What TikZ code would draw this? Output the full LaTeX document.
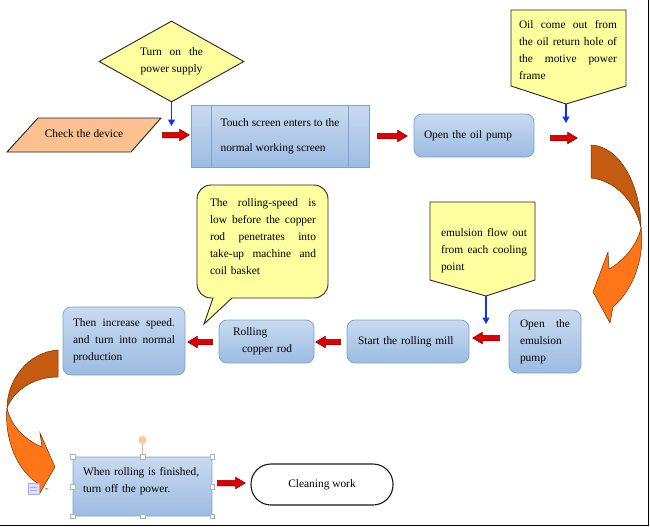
\documentclass[tikz,border=0pt]{standalone}
\usepackage{fontspec}
\setmainfont{Liberation Serif}
\usetikzlibrary{shapes.geometric,shapes.arrows,arrows.meta}
\definecolor{yel}{HTML}{FFFF9F}
\definecolor{peach}{HTML}{FAC090}
\definecolor{btop}{HTML}{C8DAF0}
\definecolor{bbot}{HTML}{9CBCE2}
\definecolor{bline}{HTML}{7FA2CE}
\definecolor{rfill}{HTML}{E00000}
\definecolor{rline}{HTML}{7A0000}
\definecolor{odark}{HTML}{C55A11}
\definecolor{olight}{HTML}{FF7518}
\definecolor{oline}{HTML}{6B3000}
\definecolor{barrow}{HTML}{1030FF}
\newcommand\fs{\fontsize{11.4}{17}\selectfont}
\newcommand\jl[2]{\leavevmode\hbox to #1{\spaceskip=.25em plus 1fil\relax #2}}
\tikzset{
  txt/.style={font=\fs, inner sep=0pt, align=left},
  bluebox/.style={draw=bline, line width=0.8pt, top color=btop, bottom color=bbot, rounded corners=8pt, inner sep=0pt, font=\fs, align=left},
  yelshape/.style={draw=black!85, line width=0.9pt, fill=yel},
  redarr/.style={single arrow, draw=rline, fill=rfill, line width=0.5pt, minimum height=27pt, minimum width=11pt, single arrow head extend=3pt, single arrow tip angle=62, inner xsep=0pt, inner ysep=2.5pt},
  bluearr/.style={draw=barrow, line width=1.1pt, -{Triangle[length=6.5pt,width=7pt]}},
  odarkst/.style={fill=odark, draw=oline, line width=0.5pt},
  olightst/.style={fill=olight, draw=oline, line width=0.5pt},
  handle/.style={draw=gray!60, fill=white, line width=0.5pt, minimum size=4.5pt, inner sep=0pt, rectangle}
}
\begin{document}
\begin{tikzpicture}[x=1pt,y=-1pt]
\useasboundingbox (0,0) rectangle (650,528);

% frame lines (right and bottom)
\draw[line width=1.3pt] (648.5,0) -- (648.5,525.8) -- (0,525.8);

% orange curved arrows
\draw[odarkst] (591,145) .. controls (620,146) and (641,186) .. (641,228) .. controls (636,205) and (618,181) .. (591,178) -- cycle;
\draw[olightst] (641,228) .. controls (645,258) and (633,290) .. (613,307) -- (610,323) -- (593,292) -- (608,252) -- (609,269) .. controls (622,262) and (637,246) .. (641,228) -- cycle;
\draw[odarkst] (58,350) .. controls (28,352) and (7,380) .. (7,408) .. controls (14,390) and (34,377) .. (58,377) -- cycle;
\draw[olightst] (7,408) .. controls (4,440) and (18,472) .. (39,484) -- (40,493) -- (55,467) -- (40,433) -- (42,447) .. controls (25,440) and (11,426) .. (7,408) -- cycle;

% diamond
\node[diamond, aspect=1.79, draw=black!85, line width=0.9pt, fill=yel, minimum width=145pt, minimum height=81pt, inner sep=0pt, font=\fs, align=center] (power) at (171.5,61.5) {\jl{63pt}{Turn on the}\\power supply};
\coordinate (pwrend) at (171.5,126);
\draw[bluearr] (power.south) -- (pwrend);

% check the device
\draw[draw=black!85, line width=0.9pt, fill=peach] (38,118) -- (161,118) -- (131,152) -- (7,152) -- cycle;
\node[txt] (check) at (84,134) {Check the device};

% touch screen (predefined process)
\node[draw=bline, line width=0.8pt, top color=btop, bottom color=bbot, minimum width=178pt, minimum height=62pt, inner sep=0pt, align=left, font=\fs] (touch) at (280,136) {Touch screen enters to the\\[8pt]normal working screen};
\draw[bline, line width=0.8pt] ([xshift=21pt]touch.north west) -- ([xshift=21pt]touch.south west);
\draw[bline, line width=0.8pt] ([xshift=-21pt]touch.north east) -- ([xshift=-21pt]touch.south east);

% oil pump
\node[bluebox, minimum width=120pt, minimum height=43pt, text width=100pt] (oilpump) at (474,135.5) {Open the oil pump};

% oil callout (pentagon)
\draw[yelshape] (511,10) -- (626,10) -- (626,86) -- (566,104) -- (511,86) -- cycle;
\node[txt, text width=98pt] (oiltxt) at (568,50) {\jl{98pt}{Oil come out from}\\\jl{98pt}{the oil return hole of}\\\jl{98pt}{the motive power}\\frame};
\coordinate (oilpt) at (566,104);
\coordinate (oilend) at (566,123);
\draw[bluearr] (oilpt) -- (oilend);

% red block arrows
\node[redarr] (a1) at (173.5,135) {};
\node[redarr, minimum height=30pt] (a2) at (390,136) {};
\node[redarr] (a3) at (561.5,138) {};
\node[redarr, shape border rotate=180] (a4) at (488.5,338) {};
\node[redarr, shape border rotate=180, minimum height=25pt] (a5) at (330.5,342) {};
\node[redarr, shape border rotate=180, minimum height=25pt] (a6) at (202.5,342) {};
\node[redarr, minimum height=28pt] (a7) at (229,483) {};

% emulsion callout (pentagon)
\draw[yelshape] (430,202) -- (535,202) -- (535,280) -- (486,296) -- (430,280) -- cycle;
\node[txt, text width=86pt] (emutxt) at (484,250.5) {\jl{86pt}{emulsion flow out}\\\jl{86pt}{from each cooling}\\point};
\coordinate (emupt) at (486,296);
\coordinate (emuend) at (486,324);
\draw[bluearr] (emupt) -- (emuend);

% emulsion pump
\node[bluebox, minimum width=72pt, minimum height=63pt, text width=50pt] (emupump) at (545,341.5) {\jl{50pt}{Open the}\\emulsion\\pump};

% start the rolling mill
\node[bluebox, minimum width=122pt, minimum height=43pt, text width=100pt] (mill) at (408,341.5) {Start the rolling mill};

% rolling copper rod
\node[bluebox, minimum width=95pt, minimum height=43pt, text width=67pt] (rolling) at (266.5,341.5) {Rolling\\\hspace*{9pt}copper rod};

% speed callout
\draw[yelshape] (213,298) -- (204,324) -- (232,298) -- (314,298) .. controls (321.7,298) and (328,291.7) .. (328,284) -- (328,199) .. controls (328,191.3) and (321.7,185) .. (314,185) -- (211,185) .. controls (203.3,185) and (197,191.3) .. (197,199) -- (197,284) .. controls (197,291.7) and (203.3,298) .. (211,298) -- cycle;
\node[txt, text width=106pt] (speedtxt) at (263,236.5) {\jl{106pt}{The rolling-speed is}\\\jl{106pt}{low before the copper}\\\jl{106pt}{rod penetrates into}\\\jl{106pt}{take-up machine and}\\coil basket};

% increase speed
\node[bluebox, minimum width=122pt, minimum height=68pt, text width=102pt] (increase) at (124,341) {\jl{102pt}{Then increase speed.}\\\jl{102pt}{and turn into normal}\\production};

% finish box
\node[draw=bline, line width=0.8pt, top color=btop, bottom color=bbot, rounded corners=2pt, minimum width=139pt, minimum height=59pt, inner sep=0pt] (finish) at (142.5,486.5) {};
\node[txt, text width=119pt] (finishtxt) at (142.5,481.5) {When rolling is finished,\\turn off the power.};
% selection handles
\draw[draw=orange!60, line width=0.6pt] (finish.north) -- (142.5,443.5);
\node[circle, draw=orange!70, fill=orange!40, minimum size=7pt, inner sep=0pt] (rot) at (142.5,440) {};
\foreach \p [count=\i] in {north west, north, north east, east, south east, south, south west, west}
  \node[handle] (h\i) at (finish.\p) {};

% paste icon
\draw[draw=blue!35, fill=blue!12, line width=0.6pt] (28,483) rectangle (39,494);
\draw[draw=blue!35, line width=0.6pt] (30,487) -- (37,487) (30,490) -- (37,490);
\fill[gray!60] (44.5,488) -- (48.5,488) -- (46.5,490.5) -- cycle;

% cleaning work
\node[draw=black!90, line width=1.1pt, fill=white, rounded corners=20pt, minimum width=142pt, minimum height=41pt, inner sep=0pt, font=\fs] (clean) at (322,484.5) {Cleaning work};
\end{tikzpicture}
\end{document}
